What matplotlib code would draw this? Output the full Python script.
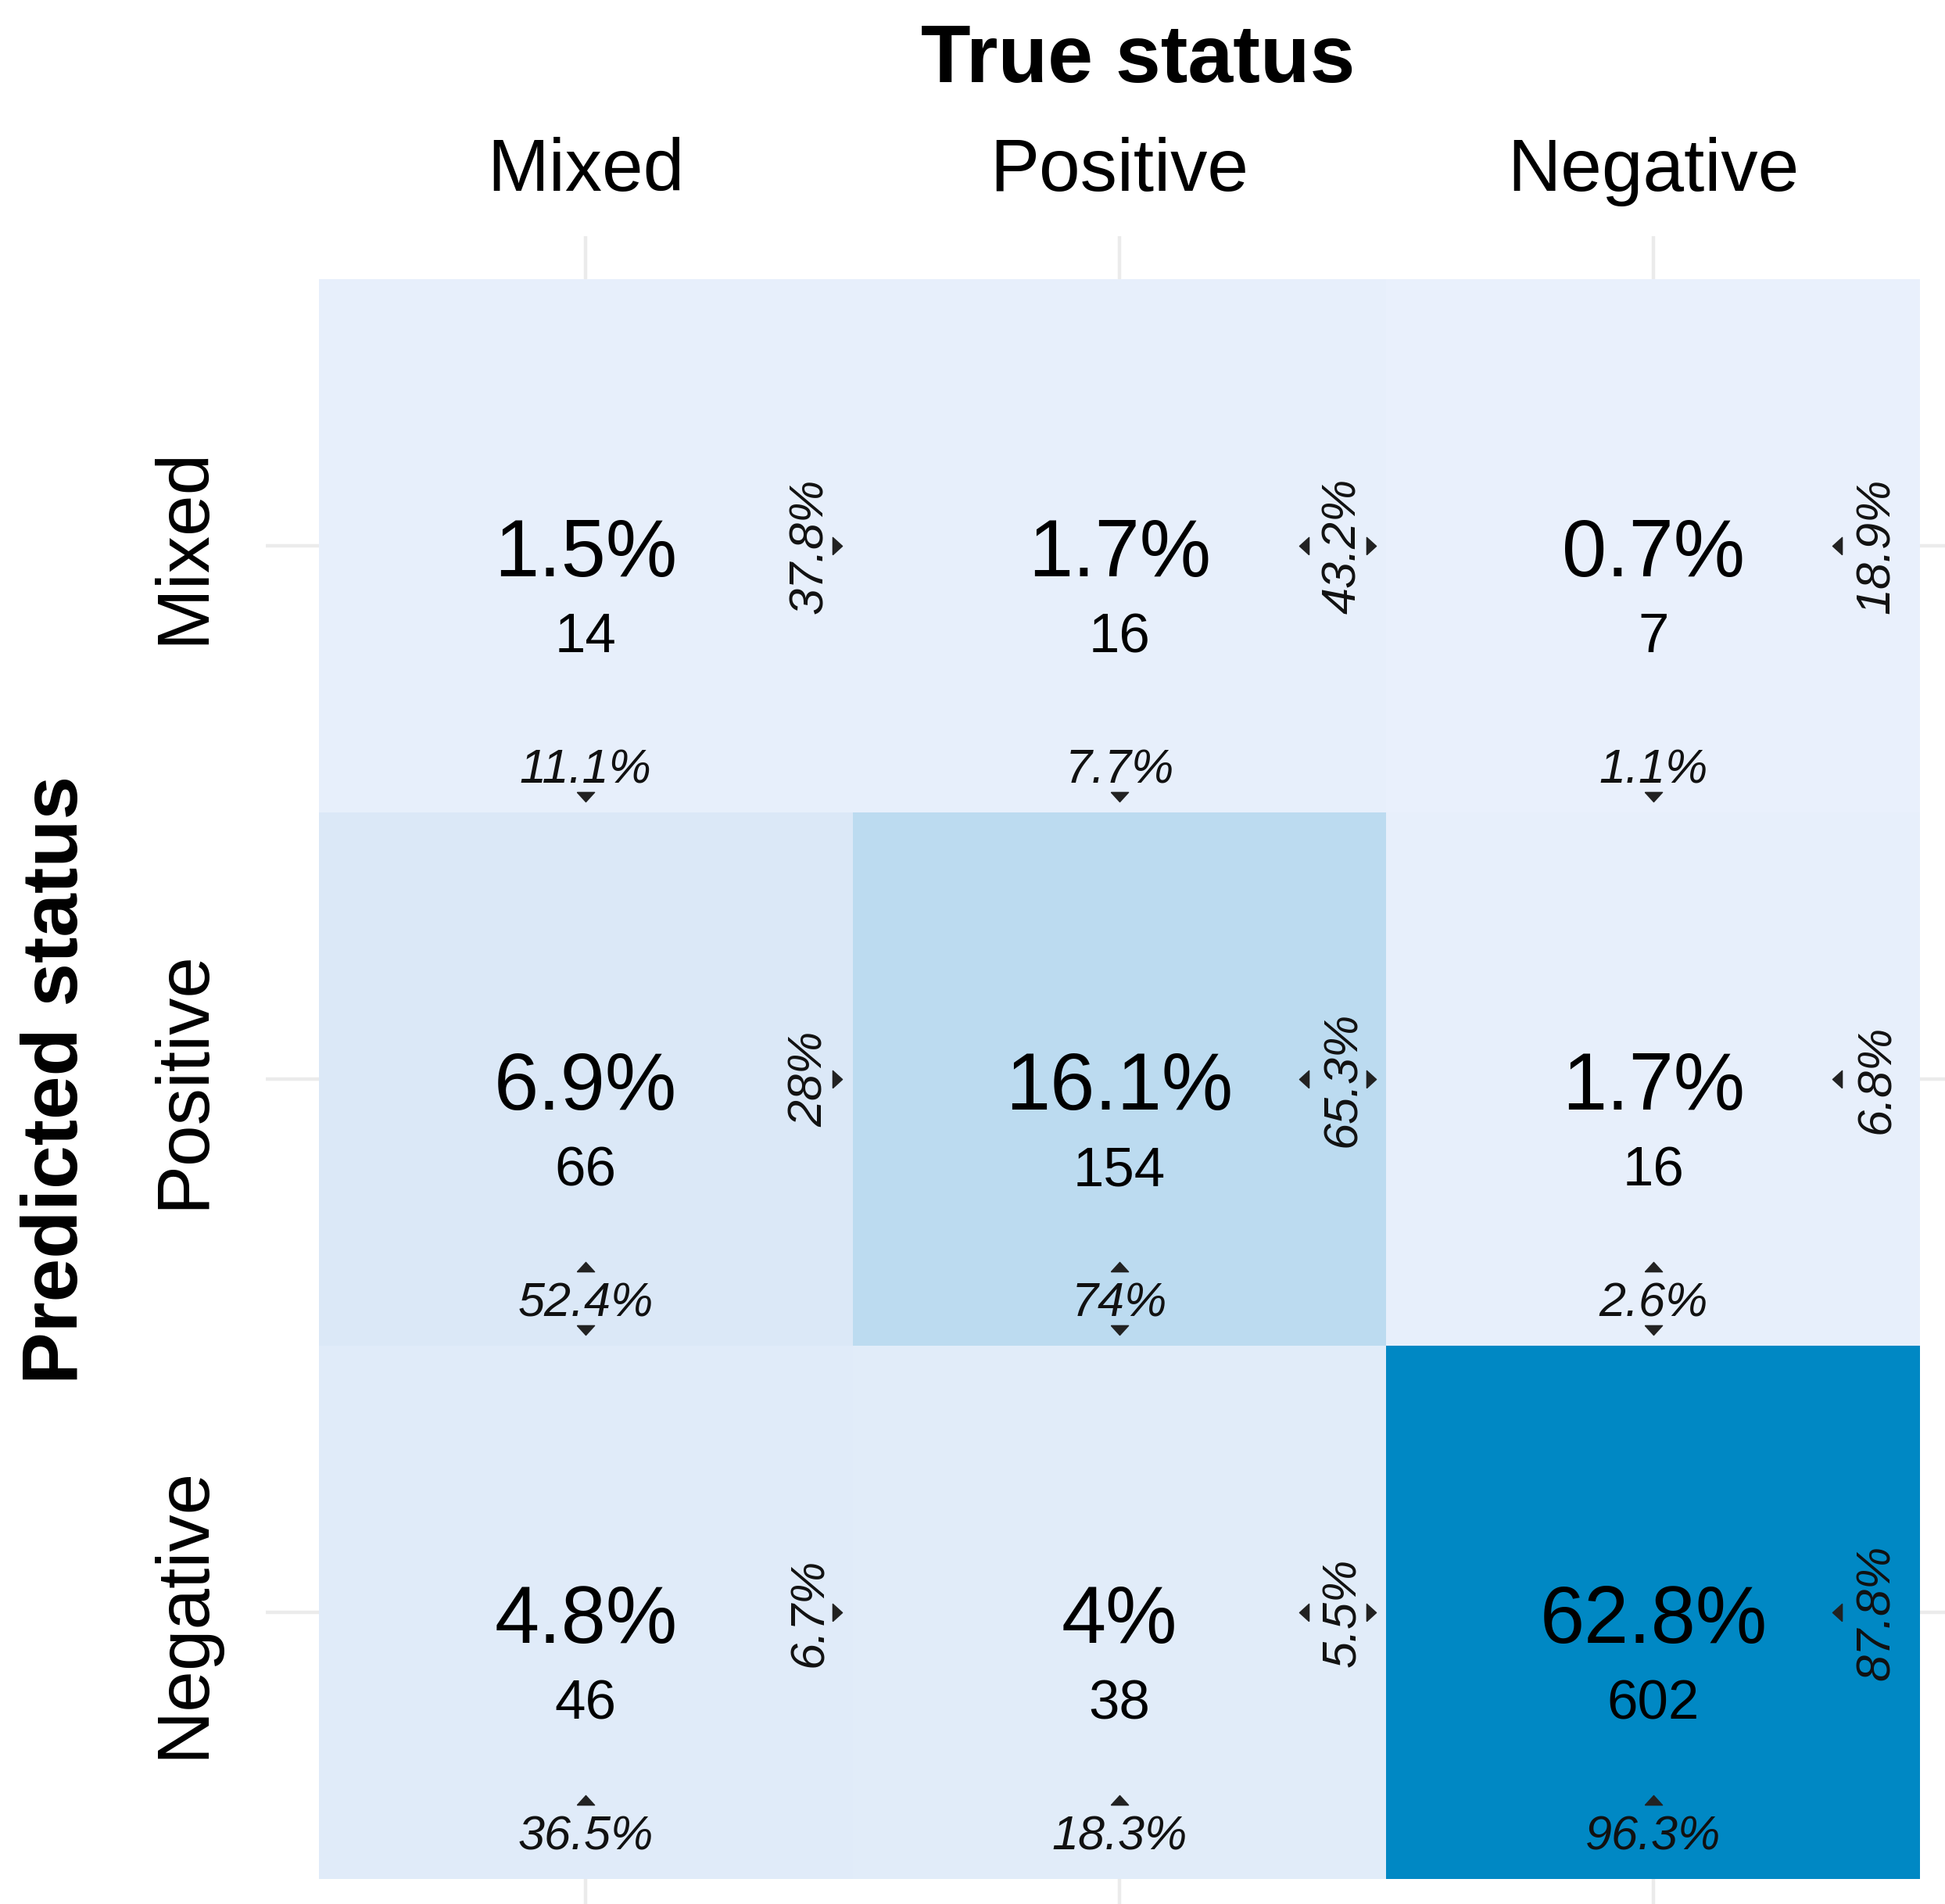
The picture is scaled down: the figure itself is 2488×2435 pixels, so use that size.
import numpy as np
import matplotlib
matplotlib.use("Agg")
from matplotlib import pyplot as plt
from matplotlib.colors import LinearSegmentedColormap, Normalize
from matplotlib.path import Path

plt.rcParams['font.family'] = ['Liberation Sans', 'DejaVu Sans']

# confusion matrix: rows = predicted, columns = true
true_labels = ["Mixed", "Positive", "Negative"]
pred_labels = ["Mixed", "Positive", "Negative"]
counts = np.array([[14, 16, 7],
                   [66, 154, 16],
                   [46, 38, 602]])


def fmt(v):
    return "{:g}%".format(round(v, 1))


total = counts.sum()
col_sums = counts.sum(axis=0)
row_sums = counts.sum(axis=1)
n = len(true_labels)

fig = plt.figure(figsize=(24.88, 24.35), dpi=100)
ax = fig.add_axes([0.1365, -0.015, 0.8782, 0.8908])

cmap = LinearSegmentedColormap.from_list(
    "cm", [(0, "#EAF1FC"), (0.11, "#DBE8F7"), (0.26, "#BBDBF0"), (1, "#0088C4")])
edges = np.arange(n + 1) - 0.5
ax.pcolormesh(edges, edges, counts, cmap=cmap,
              norm=Normalize(0, counts.max()), zorder=1)

# flat triangles for the arrows
down = Path([(-1, 0.55), (1, 0.55), (0, -0.55), (-1, 0.55)])
up = Path([(-1, -0.55), (1, -0.55), (0, 0.55), (-1, -0.55)])
left = Path([(0.55, -1), (0.55, 1), (-0.55, 0), (0.55, -1)])
right = Path([(-0.55, -1), (-0.55, 1), (0.55, 0), (-0.55, -1)])
ms = 16
acol = "#222222"

for i in range(n):
    for j in range(n):
        ax.text(j, i + 0.057, fmt(100 * counts[i, j] / total),
                ha='center', va='baseline', fontsize=74, zorder=3)
        ax.text(j, i + 0.2, str(counts[i, j]),
                ha='center', va='baseline', fontsize=51, zorder=3)
        # column percentage
        ax.text(j, i + 0.445, fmt(100 * counts[i, j] / col_sums[j]),
                ha='center', va='baseline', fontsize=44, style='italic',
                color='#111111', zorder=3)
        if i > 0:
            ax.plot(j, i + 0.351, marker=up, ms=ms, color=acol, zorder=3)
        if i < n - 1:
            ax.plot(j, i + 0.471, marker=down, ms=ms, color=acol, zorder=3)
        # row percentage
        ax.text(j + 0.42, i, fmt(100 * counts[i, j] / row_sums[i]),
                ha='center', va='center', rotation=90, fontsize=44,
                style='italic', color='#111111', zorder=3)
        if j > 0:
            ax.plot(j + 0.345, i, marker=left, ms=ms, color=acol, zorder=3)
        if j < n - 1:
            ax.plot(j + 0.471, i, marker=right, ms=ms, color=acol, zorder=3)

ax.set_xlim(-0.6, n - 0.4)
ax.set_ylim(n - 0.4, -0.58)
ax.set_aspect('auto')

ax.set_xticks(range(n))
ax.set_xticklabels(true_labels, fontsize=68)
ax.set_yticks(range(n))
ax.set_yticklabels(pred_labels, fontsize=68, rotation=90, va='center')
ax.tick_params(axis='x', top=True, labeltop=True, bottom=False,
               labelbottom=False, length=0, pad=28)
ax.tick_params(axis='y', length=0, pad=43)

ax.set_axisbelow(True)
ax.grid(True, color='#EBEBEB', linewidth=3.2)
for s in ax.spines.values():
    s.set_visible(False)

fig.text(0.585, 0.957, "True status", ha='center', va='baseline',
         fontsize=75, fontweight='bold')
fig.text(0.0295, 0.433, "Predicted status", ha='center', va='center',
         rotation=90, fontsize=72, fontweight='bold')

fig.savefig("out.png", dpi=100)
